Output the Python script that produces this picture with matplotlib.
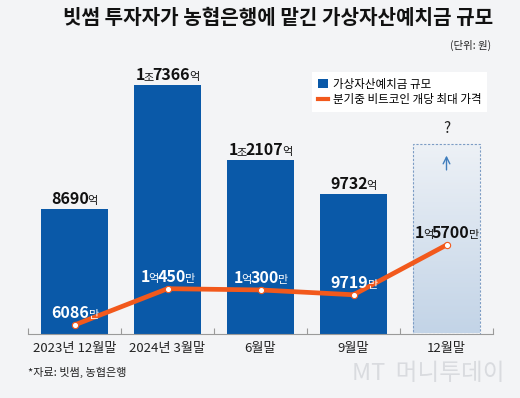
import re
import matplotlib
matplotlib.use('Agg')
import matplotlib.pyplot as plt
import numpy as np
from matplotlib.patches import Rectangle, Patch
from matplotlib.lines import Line2D
from matplotlib.offsetbox import TextArea, HPacker, AnnotationBbox

plt.rcParams['font.family'] = ['Noto Sans CJK KR', 'DejaVu Sans']

# data
periods = ['2023년 12월말', '2024년 3월말', '6월말', '9월말', '12월말']
deposits = [8690, 17366, 12107, 9732]          # 억 원
deposit_labels = ['8690억', '1조7366억', '1조2107억', '9732억']
btc_max = [6086, 10450, 10300, 9719, 15700]     # 만 원
btc_labels = ['6086만', '1억450만', '1억300만', '9719만', '1억5700만']
placeholder = 13230                              # unknown 12월말 deposit box

BG = '#f3f4f6'
BLUE = '#0a59a8'
ORANGE = '#f2591c'

fig = plt.figure(figsize=(5.2, 3.98), dpi=100, facecolor=BG)
W, H = 520, 398
ax = fig.add_axes([28 / W, (H - 333.5) / H, 465 / W, 263.5 / H])
ax.set_facecolor('none')

x = np.arange(len(periods))
bw = 0.72
ax.bar(x[:len(deposits)], deposits, width=bw, color=BLUE, zorder=2)

# dashed placeholder box with gradient
xb = x[-1]
grad = np.linspace(0, 1, 100).reshape(-1, 1)
cmap = matplotlib.colors.LinearSegmentedColormap.from_list('g', ['#c3d4e7', '#edf1f6'])
im = ax.imshow(grad, cmap=cmap, origin='lower', aspect='auto',
               extent=[xb - bw / 2, xb + bw / 2, 0, placeholder], zorder=1)
box = Rectangle((xb - bw / 2, 0), bw, placeholder, facecolor='none',
                edgecolor='#7c9cc4', linestyle=(0, (2, 1.5)), linewidth=0.8, zorder=3)
ax.add_patch(box)
im.set_clip_path(box)
ax.annotate('', xy=(xb, placeholder * 0.955), xytext=(xb, placeholder * 0.85),
            arrowprops=dict(arrowstyle='->', color='#3f7dbd', lw=1.0,
                            mutation_scale=12), zorder=4)
ax.annotate('?', (xb, placeholder), xytext=(0, 5), textcoords='offset points',
            ha='center', va='bottom', fontsize=11, color='#222222')

ax.set_xlim(-0.5, len(periods) - 0.5)
ax.set_ylim(0, 18427)


def mixed_label(axis, xv, yv, text, color, dy, big=11.5, small=8):
    parts = re.findall(r'\d+|\D+', text)
    kids = []
    for p in parts:
        if p.isdigit():
            props = dict(color=color, fontsize=big, fontweight='bold')
        else:
            props = dict(color=color, fontsize=small)
        kids.append(TextArea(p, textprops=props))
    pack = HPacker(children=kids, align='baseline', pad=0, sep=-1)
    ab = AnnotationBbox(pack, (xv, yv), xybox=(0, dy), xycoords='data',
                        boxcoords='offset points', box_alignment=(0.5, 0),
                        frameon=False, pad=0, zorder=6)
    axis.add_artist(ab)


for xi, v, lab in zip(x, deposits, deposit_labels):
    mixed_label(ax, xi, v, lab, '#111111', 1.5)

# bitcoin line on a hidden twin axis
tw = ax.twinx()
tw.set_ylim(5064, 36735)
tw.axis('off')
tw.plot(x, btc_max, color=ORANGE, lw=3.4, zorder=3, solid_capstyle='round')
tw.plot(x, btc_max, 'o', ms=4.5, mfc='white', mec=ORANGE, mew=0.8, zorder=4)
for xi, v, lab in zip(x, btc_max, btc_labels):
    col = '#111111' if xi == x[-1] else 'white'
    mixed_label(tw, xi, v, lab, col, 3)

# axis styling
for s in ['top', 'right', 'left']:
    ax.spines[s].set_visible(False)
ax.spines['bottom'].set_color('#9a9a9a')
ax.set_yticks([])
ax.set_xticks(x)
ax.set_xticklabels(periods, fontsize=9.5, color='#222222')
ax.tick_params(axis='x', which='major', length=0, pad=6)
ax.set_xticks(np.arange(-0.5, len(periods)), minor=True)
ax.tick_params(axis='x', which='minor', direction='in', length=4, color='#9a9a9a', width=0.8)

# legend
handles = [Patch(facecolor=BLUE, edgecolor='none'),
           Line2D([], [], color=ORANGE, lw=3)]
leg = fig.legend(handles, ['가상자산예치금 규모', '분기중 비트코인 개당 최대 가격'],
                 loc='upper right', bbox_to_anchor=(493 / W, 1 - 66 / H),
                 fontsize=8.3, frameon=True, fancybox=False, facecolor='white',
                 edgecolor='none', framealpha=1, handlelength=0.9, handleheight=0.9,
                 handletextpad=0.4, borderpad=0.5, labelspacing=0.25)

# texts
fig.text(493 / W, 1 - 18 / H, '빗썸 투자자가 농협은행에 맡긴 가상자산예치금 규모',
         ha='right', va='center', fontsize=14.5, fontweight='bold', color='#111111')
fig.text(491 / W, 1 - 45 / H, '(단위: 원)', ha='right', va='center', fontsize=7.5,
         color='#222222')
fig.text(28 / W, 1 - 372 / H, '*자료: 빗썸, 농협은행', ha='left', va='center',
         fontsize=8, color='#222222')
fig.text(505 / W, 1 - 373 / H, 'MT  머니투데이', ha='right', va='center', fontsize=17,
         color='#d9dbdf')

fig.savefig('out.png', dpi=100, facecolor=BG)
